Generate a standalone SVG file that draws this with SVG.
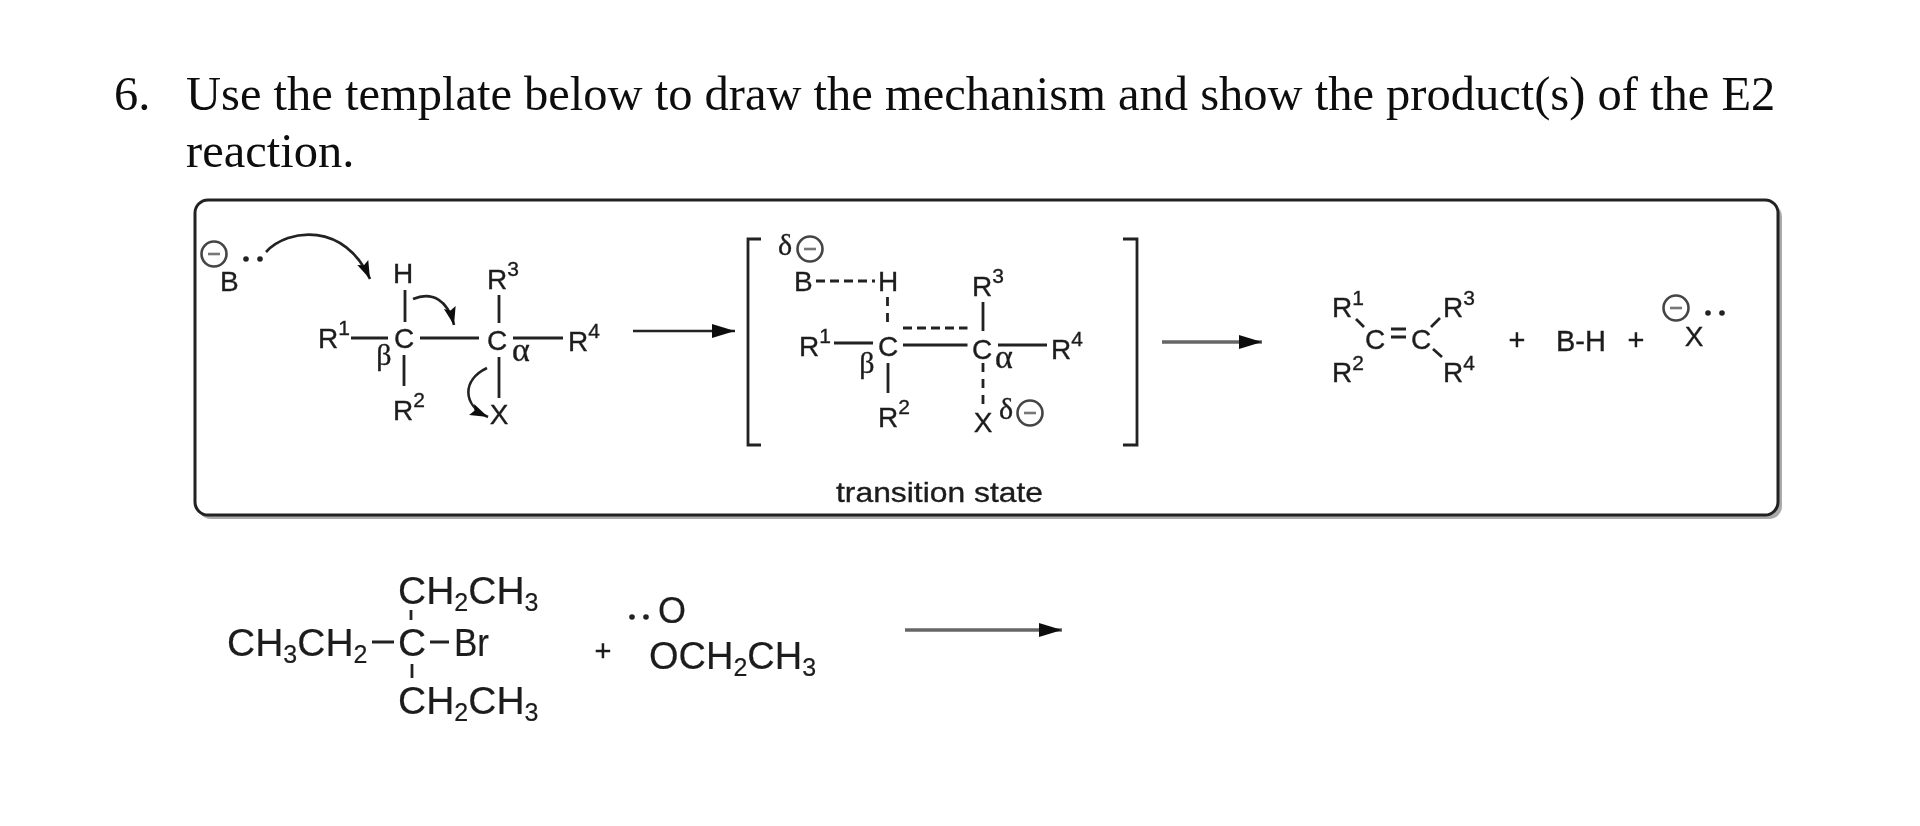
<svg xmlns="http://www.w3.org/2000/svg" xmlns:xlink="http://www.w3.org/1999/xlink" width="1920" height="826" viewBox="0 0 1920 826">
<style>
text{font-family:"Liberation Sans",Arial,sans-serif;fill:#1c1c1c;stroke:#1c1c1c;stroke-width:.35;font-size:28px}
.t{font-family:"Liberation Serif","Times New Roman",serif;font-size:48.500px;fill:#111;stroke:none}
.g{font-family:"Liberation Serif","DejaVu Serif",serif;font-size:30px;text-anchor:middle}
.al{font-size:34px}
.m{text-anchor:middle}
.f{font-size:39px;stroke-width:.2}
.s{font-size:21px}
.u{font-size:25px}
.p{font-size:29px}
.b{fill:none;stroke:#222;stroke-width:2.800}
.d{stroke-dasharray:9 5}
.v{stroke-dasharray:9 7}
.a{fill:none;stroke:#222;stroke-width:2.600}
.w{fill:none;stroke:#666;stroke-width:3.500}
.e{fill:#222}
</style>
<defs>
<filter id="soft" x="-2%" y="-2%" width="104%" height="104%"><feGaussianBlur stdDeviation="0.6"/></filter>
<marker id="head" markerUnits="userSpaceOnUse" markerWidth="24" markerHeight="16" refX="23" refY="8" orient="auto"><path d="M0 1 L23 8 L0 15Z" fill="#111"/></marker>
<marker id="curl" markerUnits="userSpaceOnUse" markerWidth="20" markerHeight="16" refX="18" refY="8" orient="auto"><path d="M0 2 L18 8 L0 14 L3 8Z" fill="#111"/></marker>
<g id="minus"><circle r="12.500" fill="none" stroke="#444" stroke-width="2.600"/><path d="M-6 0H6" stroke="#777" stroke-width="2.600"/></g>
<g id="pair"><circle r="2.800" class="e"/><circle cx="14" r="2.800" class="e"/></g>
</defs>
<rect width="1920" height="826" fill="#fff"/>
<g filter="url(#soft)">
<g id="question">
<text class="t" x="114" y="110">6.</text>
<text class="t" x="186" y="110">Use the template below to draw the mechanism and show the product(s) of the E2</text>
<text class="t" x="186" y="167">reaction.</text>
</g>
<g id="template-box">
<rect x="198" y="204" width="1584" height="315" rx="13" fill="#aaa"/>
<rect x="195" y="200" width="1583" height="315" rx="13" fill="#fff" stroke="#222" stroke-width="3"/>
</g>
<g id="connectors">
<path class="b" d="M405 290V322M351 338H388M420 338H479M513 338H563M499 295V323M404 355V386M499 357V398"/>
<path class="a" marker-end="url(#curl)" d="M266 252C288 228 345 222 370 279"/>
<path class="a" marker-end="url(#curl)" d="M413 299C432 291 448 300 454 325"/>
<path class="a" marker-end="url(#curl)" d="M487 368C462 380 462 405 488 417"/>
<path class="a" marker-end="url(#head)" d="M633 331H735"/>
<path class="b" d="M761 239H748V445H761M1123 239H1137V445H1123"/>
<path class="b d" d="M816 281H875M903 328H967.500"/>
<path class="b v" d="M887.500 297V328M983 363V406"/>
<path class="b" d="M834 343H873M903 345H967.500M998 345H1047M983 302V331M888 363V393"/>
<path class="w" marker-end="url(#head)" d="M1162 342H1262"/>
<path class="b" d="M1356 319L1364 327M1431 327L1440 318M1433 349L1442 357M1391 329H1406M1391 337H1406"/>
<path class="b" d="M411 610V620M412 664V678M372 642H394M430 642H449"/>
<path class="w" marker-end="url(#head)" d="M905 630H1062"/>
</g>
<g id="base"><use xlink:href="#minus" href="#minus" x="214" y="254"/><text x="220" y="291">B</text><use xlink:href="#pair" href="#pair" x="246" y="259"/></g>
<g id="reactant">
<text class="m" x="403" y="283">H</text>
<text x="318" y="348">R<tspan class="s" dy="-13">1</tspan></text>
<text class="m" x="404" y="348">C</text>
<text class="m" x="497" y="350">C</text>
<text x="568" y="351">R<tspan class="s" dy="-13">4</tspan></text>
<text x="487" y="289">R<tspan class="s" dy="-13">3</tspan></text>
<text x="393" y="420">R<tspan class="s" dy="-13">2</tspan></text>
<text class="m" x="499" y="424">X</text>
<text class="g al" x="521" y="361">α</text>
<text class="g" x="384" y="365">β</text>
</g>
<g id="transition-state">
<text class="g" x="785" y="255">δ</text><use xlink:href="#minus" href="#minus" x="810" y="249"/>
<text x="794" y="291">B</text>
<text class="m" x="888" y="291">H</text>
<text x="972" y="296">R<tspan class="s" dy="-13">3</tspan></text>
<text x="799" y="356">R<tspan class="s" dy="-13">1</tspan></text>
<text class="m" x="888" y="356">C</text>
<text class="m" x="982" y="359">C</text>
<text x="1051" y="359">R<tspan class="s" dy="-13">4</tspan></text>
<text class="g al" x="1004" y="368">α</text>
<text class="g" x="867" y="373">β</text>
<text x="878" y="427">R<tspan class="s" dy="-13">2</tspan></text>
<text class="m" x="983" y="432">X</text>
<text class="g" x="1006" y="419">δ</text><use xlink:href="#minus" href="#minus" x="1030" y="413"/>
<text x="836" y="502" textLength="207" lengthAdjust="spacingAndGlyphs">transition state</text>
</g>
<g id="alkene">
<text x="1332" y="317">R<tspan class="s" dy="-12">1</tspan></text>
<text x="1443" y="317">R<tspan class="s" dy="-12">3</tspan></text>
<text x="1332" y="382">R<tspan class="s" dy="-12">2</tspan></text>
<text x="1443" y="382">R<tspan class="s" dy="-12">4</tspan></text>
<text class="m" x="1375" y="349">C</text>
<text class="m" x="1421" y="349">C</text>
</g>
<g id="plus-1"><text class="m p" x="1517" y="350">+</text></g>
<g id="base-h"><text class="p" x="1556" y="351">B-H</text></g>
<g id="plus-2"><text class="m p" x="1636" y="350">+</text></g>
<g id="leaving-group"><use xlink:href="#minus" href="#minus" x="1676" y="308"/><text class="m" x="1694" y="346">X</text><use xlink:href="#pair" href="#pair" x="1708" y="313"/></g>
<g id="substrate">
<text class="f" x="398" y="604">CH<tspan class="u" dy="7">2</tspan><tspan dy="-7">CH</tspan><tspan class="u" dy="7">3</tspan></text>
<text class="f" x="227" y="656">CH<tspan class="u" dy="7">3</tspan><tspan dy="-7">CH</tspan><tspan class="u" dy="7">2</tspan></text>
<text class="f m" x="412" y="656">C</text>
<text class="f" x="454" y="656" textLength="35" lengthAdjust="spacingAndGlyphs">Br</text>
<text class="f" x="398" y="714">CH<tspan class="u" dy="7">2</tspan><tspan dy="-7">CH</tspan><tspan class="u" dy="7">3</tspan></text>
</g>
<g id="plus-3"><text class="m p" x="603" y="661">+</text></g>
<g id="ethoxide">
<use xlink:href="#pair" href="#pair" x="632" y="617"/>
<text class="m f" x="672" y="623" style="font-size:36px">O</text>
<text class="f" x="649" y="669" style="font-size:38px">OCH<tspan class="u" dy="7">2</tspan><tspan dy="-7">CH</tspan><tspan class="u" dy="7">3</tspan></text>
</g>
</g>
</svg>
